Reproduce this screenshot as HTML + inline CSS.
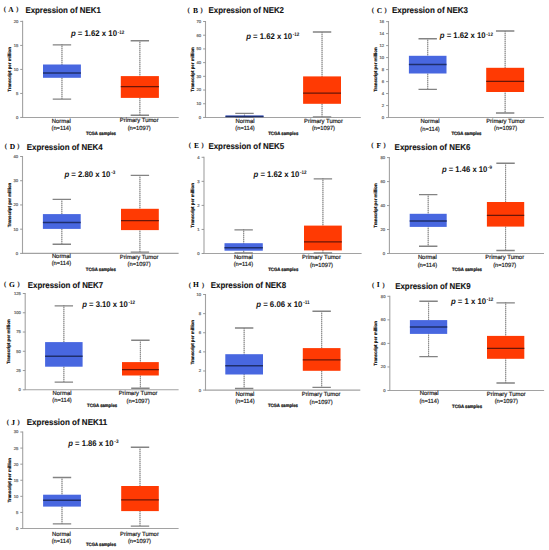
<!DOCTYPE html>
<html><head><meta charset="utf-8"><style>
html,body{margin:0;padding:0;background:#fff;}
svg{display:block;}
</style></head><body>
<svg width="549" height="550" viewBox="0 0 549 550" text-rendering="geometricPrecision">
<rect width="549" height="550" fill="#fff"/>
<text x="3.85" y="11.2" font-family='"Liberation Serif", serif' font-weight="bold" font-size="6.4" fill="#222" stroke="#222" stroke-width="0.12">(</text>
<text x="10.9" y="11.8" font-family='"Liberation Serif", serif' font-weight="bold" font-size="7.5" fill="#000" text-anchor="middle">A</text>
<text x="16.2" y="11.2" font-family='"Liberation Serif", serif' font-weight="bold" font-size="6.4" fill="#222" stroke="#222" stroke-width="0.12">)</text>
<text x="25.4" y="12.8" font-family='"Liberation Sans", sans-serif' font-weight="bold" font-size="8.5" fill="#111" stroke="#111" stroke-width="0.12" textLength="75.4" lengthAdjust="spacingAndGlyphs">Expression of NEK1</text>
<path d="M22.6 20.8V117.45H178.7" stroke="#a2a2a2" stroke-width="1.1" fill="none"/>
<path d="M20.2 117.45H22.6" stroke="#8e8e8e" stroke-width="0.9"/>
<text x="18.3" y="118.9" font-family='"Liberation Sans", sans-serif' font-size="4.2" fill="#6e6e6e" stroke="#6e6e6e" stroke-width="0.22" text-anchor="end">0</text>
<path d="M20.2 93.44H22.6" stroke="#8e8e8e" stroke-width="0.9"/>
<text x="18.3" y="94.89" font-family='"Liberation Sans", sans-serif' font-size="4.2" fill="#6e6e6e" stroke="#6e6e6e" stroke-width="0.22" text-anchor="end">5</text>
<path d="M20.2 69.42H22.6" stroke="#8e8e8e" stroke-width="0.9"/>
<text x="18.3" y="70.88" font-family='"Liberation Sans", sans-serif' font-size="4.2" fill="#6e6e6e" stroke="#6e6e6e" stroke-width="0.22" text-anchor="end">10</text>
<path d="M20.2 45.41H22.6" stroke="#8e8e8e" stroke-width="0.9"/>
<text x="18.3" y="46.86" font-family='"Liberation Sans", sans-serif' font-size="4.2" fill="#6e6e6e" stroke="#6e6e6e" stroke-width="0.22" text-anchor="end">15</text>
<path d="M20.2 21.4H22.6" stroke="#8e8e8e" stroke-width="0.9"/>
<text x="18.3" y="22.85" font-family='"Liberation Sans", sans-serif' font-size="4.2" fill="#6e6e6e" stroke="#6e6e6e" stroke-width="0.22" text-anchor="end">20</text>
<text transform="translate(10.7 69.42) rotate(-90)" font-family='"Liberation Sans", sans-serif' font-weight="bold" font-size="4.6" fill="#111" stroke="#111" stroke-width="0.16" text-anchor="middle" textLength="44.5" lengthAdjust="spacingAndGlyphs">Transcript per million</text>
<path d="M61.95 44.9V99.1" stroke="#c4c4c4" stroke-width="1.1"/>
<path d="M61.95 44V99.1" stroke="#8e8e8e" stroke-width="1.1" stroke-dasharray="1 1"/>
<path d="M52.75 44.9H71.15M52.75 99.1H71.15" stroke="#838383" stroke-width="1.4"/>
<rect x="43" y="64.5" width="37.9" height="13.3" fill="#4867e0"/>
<path d="M43 73H80.9" stroke="#1f2f6c" stroke-width="1.5"/>
<path d="M139.85 40.8V115.3" stroke="#c4c4c4" stroke-width="1.1"/>
<path d="M139.85 40V115.3" stroke="#8e8e8e" stroke-width="1.1" stroke-dasharray="1 1"/>
<path d="M130.65 40.8H149.05M130.65 115.3H149.05" stroke="#838383" stroke-width="1.4"/>
<rect x="120.8" y="76.1" width="38.1" height="21.8" fill="#ff3a03"/>
<path d="M120.8 86.7H158.9" stroke="#6a1608" stroke-width="1.25"/>
<text x="61.25" y="122.65" font-family='"Liberation Sans", sans-serif' font-size="6.0" fill="#151515" stroke="#151515" stroke-width="0.18" text-anchor="middle" textLength="18.9" lengthAdjust="spacingAndGlyphs">Normal</text>
<text x="61.25" y="129.8" font-family='"Liberation Sans", sans-serif' font-size="6.0" fill="#151515" stroke="#151515" stroke-width="0.18" text-anchor="middle" textLength="19.4" lengthAdjust="spacingAndGlyphs">(n=114)</text>
<text x="139.2" y="122.35" font-family='"Liberation Sans", sans-serif' font-size="6.0" fill="#151515" stroke="#151515" stroke-width="0.18" text-anchor="middle" textLength="38.9" lengthAdjust="spacingAndGlyphs">Primary Tumor</text>
<text x="139.2" y="129.85" font-family='"Liberation Sans", sans-serif' font-size="6.0" fill="#151515" stroke="#151515" stroke-width="0.18" text-anchor="middle" textLength="23.1" lengthAdjust="spacingAndGlyphs">(n=1097)</text>
<text x="100.9" y="134.75" font-family='"Liberation Sans", sans-serif' font-weight="bold" font-size="4.8" fill="#111" stroke="#111" stroke-width="0.22" text-anchor="middle" textLength="30.0" lengthAdjust="spacingAndGlyphs">TCGA samples</text>
<text x="70.9" y="36.1" font-family='"Liberation Sans", sans-serif' font-weight="bold" font-size="8.25" fill="#111" textLength="46.15" lengthAdjust="spacingAndGlyphs"><tspan font-style="italic">p</tspan> = 1.62 x 10</text>
<text x="117.75" y="33.55" font-family='"Liberation Sans", sans-serif' font-weight="bold" font-size="5.1" fill="#222" textLength="6.6" lengthAdjust="spacingAndGlyphs">-12</text>
<text x="187.45" y="12" font-family='"Liberation Serif", serif' font-weight="bold" font-size="6.4" fill="#222" stroke="#222" stroke-width="0.12">(</text>
<text x="195.5" y="12.6" font-family='"Liberation Serif", serif' font-weight="bold" font-size="7.5" fill="#000" text-anchor="middle">B</text>
<text x="200.6" y="12" font-family='"Liberation Serif", serif' font-weight="bold" font-size="6.4" fill="#222" stroke="#222" stroke-width="0.12">)</text>
<text x="208.6" y="12.8" font-family='"Liberation Sans", sans-serif' font-weight="bold" font-size="8.5" fill="#111" stroke="#111" stroke-width="0.12" textLength="75.4" lengthAdjust="spacingAndGlyphs">Expression of NEK2</text>
<path d="M205.5 20.9V117.45H360.8" stroke="#a2a2a2" stroke-width="1.1" fill="none"/>
<path d="M203.1 117.45H205.5" stroke="#8e8e8e" stroke-width="0.9"/>
<text x="201.2" y="118.9" font-family='"Liberation Sans", sans-serif' font-size="4.2" fill="#6e6e6e" stroke="#6e6e6e" stroke-width="0.22" text-anchor="end">0</text>
<path d="M203.1 103.74H205.5" stroke="#8e8e8e" stroke-width="0.9"/>
<text x="201.2" y="105.19" font-family='"Liberation Sans", sans-serif' font-size="4.2" fill="#6e6e6e" stroke="#6e6e6e" stroke-width="0.22" text-anchor="end">10</text>
<path d="M203.1 90.04H205.5" stroke="#8e8e8e" stroke-width="0.9"/>
<text x="201.2" y="91.49" font-family='"Liberation Sans", sans-serif' font-size="4.2" fill="#6e6e6e" stroke="#6e6e6e" stroke-width="0.22" text-anchor="end">20</text>
<path d="M203.1 76.33H205.5" stroke="#8e8e8e" stroke-width="0.9"/>
<text x="201.2" y="77.78" font-family='"Liberation Sans", sans-serif' font-size="4.2" fill="#6e6e6e" stroke="#6e6e6e" stroke-width="0.22" text-anchor="end">30</text>
<path d="M203.1 62.62H205.5" stroke="#8e8e8e" stroke-width="0.9"/>
<text x="201.2" y="64.07" font-family='"Liberation Sans", sans-serif' font-size="4.2" fill="#6e6e6e" stroke="#6e6e6e" stroke-width="0.22" text-anchor="end">40</text>
<path d="M203.1 48.91H205.5" stroke="#8e8e8e" stroke-width="0.9"/>
<text x="201.2" y="50.36" font-family='"Liberation Sans", sans-serif' font-size="4.2" fill="#6e6e6e" stroke="#6e6e6e" stroke-width="0.22" text-anchor="end">50</text>
<path d="M203.1 35.21H205.5" stroke="#8e8e8e" stroke-width="0.9"/>
<text x="201.2" y="36.66" font-family='"Liberation Sans", sans-serif' font-size="4.2" fill="#6e6e6e" stroke="#6e6e6e" stroke-width="0.22" text-anchor="end">60</text>
<path d="M203.1 21.5H205.5" stroke="#8e8e8e" stroke-width="0.9"/>
<text x="201.2" y="22.95" font-family='"Liberation Sans", sans-serif' font-size="4.2" fill="#6e6e6e" stroke="#6e6e6e" stroke-width="0.22" text-anchor="end">70</text>
<text transform="translate(193.7 69.47) rotate(-90)" font-family='"Liberation Sans", sans-serif' font-weight="bold" font-size="4.6" fill="#111" stroke="#111" stroke-width="0.16" text-anchor="middle" textLength="44.5" lengthAdjust="spacingAndGlyphs">Transcript per million</text>
<path d="M244.5 113.4V117.2" stroke="#c4c4c4" stroke-width="1.1"/>
<path d="M244.5 113V117.2" stroke="#8e8e8e" stroke-width="1.1" stroke-dasharray="1 1"/>
<path d="M235.3 113.4H253.7M235.3 117.2H253.7" stroke="#838383" stroke-width="1.4"/>
<rect x="225.5" y="115.5" width="38" height="1.5" fill="#4867e0"/>
<path d="M225.5 116.5H263.5" stroke="#1f2f6c" stroke-width="1.5"/>
<path d="M322.05 32V116.9" stroke="#c4c4c4" stroke-width="1.1"/>
<path d="M322.05 32V116.9" stroke="#8e8e8e" stroke-width="1.1" stroke-dasharray="1 1"/>
<path d="M312.85 32H331.25M312.85 116.9H331.25" stroke="#838383" stroke-width="1.4"/>
<rect x="303.1" y="76.4" width="37.9" height="27.4" fill="#ff3a03"/>
<path d="M303.1 93H341" stroke="#6a1608" stroke-width="1.25"/>
<text x="245.05" y="122.7" font-family='"Liberation Sans", sans-serif' font-size="6.0" fill="#151515" stroke="#151515" stroke-width="0.18" text-anchor="middle" textLength="18.9" lengthAdjust="spacingAndGlyphs">Normal</text>
<text x="245.05" y="130.45" font-family='"Liberation Sans", sans-serif' font-size="6.0" fill="#151515" stroke="#151515" stroke-width="0.18" text-anchor="middle" textLength="19.4" lengthAdjust="spacingAndGlyphs">(n=114)</text>
<text x="323.45" y="122.85" font-family='"Liberation Sans", sans-serif' font-size="6.0" fill="#151515" stroke="#151515" stroke-width="0.18" text-anchor="middle" textLength="38.9" lengthAdjust="spacingAndGlyphs">Primary Tumor</text>
<text x="323.45" y="130.3" font-family='"Liberation Sans", sans-serif' font-size="6.0" fill="#151515" stroke="#151515" stroke-width="0.18" text-anchor="middle" textLength="23.1" lengthAdjust="spacingAndGlyphs">(n=1097)</text>
<text x="283.27" y="134.75" font-family='"Liberation Sans", sans-serif' font-weight="bold" font-size="4.8" fill="#111" stroke="#111" stroke-width="0.22" text-anchor="middle" textLength="30.0" lengthAdjust="spacingAndGlyphs">TCGA samples</text>
<text x="246.2" y="38.5" font-family='"Liberation Sans", sans-serif' font-weight="bold" font-size="8.25" fill="#111" textLength="45.85" lengthAdjust="spacingAndGlyphs"><tspan font-style="italic">p</tspan> = 1.62 x 10</text>
<text x="292.75" y="35.95" font-family='"Liberation Sans", sans-serif' font-weight="bold" font-size="5.1" fill="#222" textLength="6.6" lengthAdjust="spacingAndGlyphs">-12</text>
<text x="371.85" y="12.2" font-family='"Liberation Serif", serif' font-weight="bold" font-size="6.4" fill="#222" stroke="#222" stroke-width="0.12">(</text>
<text x="379.4" y="12.8" font-family='"Liberation Serif", serif' font-weight="bold" font-size="7.5" fill="#000" text-anchor="middle">C</text>
<text x="384.6" y="12.2" font-family='"Liberation Serif", serif' font-weight="bold" font-size="6.4" fill="#222" stroke="#222" stroke-width="0.12">)</text>
<text x="391.9" y="13.2" font-family='"Liberation Sans", sans-serif' font-weight="bold" font-size="8.5" fill="#111" stroke="#111" stroke-width="0.12" textLength="76.1" lengthAdjust="spacingAndGlyphs">Expression of NEK3</text>
<path d="M388.5 21V117.55H543.9" stroke="#a2a2a2" stroke-width="1.1" fill="none"/>
<path d="M386.1 117.55H388.5" stroke="#8e8e8e" stroke-width="0.9"/>
<text x="384.2" y="119" font-family='"Liberation Sans", sans-serif' font-size="4.2" fill="#6e6e6e" stroke="#6e6e6e" stroke-width="0.22" text-anchor="end">0</text>
<path d="M386.1 105.56H388.5" stroke="#8e8e8e" stroke-width="0.9"/>
<text x="384.2" y="107.01" font-family='"Liberation Sans", sans-serif' font-size="4.2" fill="#6e6e6e" stroke="#6e6e6e" stroke-width="0.22" text-anchor="end">2</text>
<path d="M386.1 93.56H388.5" stroke="#8e8e8e" stroke-width="0.9"/>
<text x="384.2" y="95.01" font-family='"Liberation Sans", sans-serif' font-size="4.2" fill="#6e6e6e" stroke="#6e6e6e" stroke-width="0.22" text-anchor="end">4</text>
<path d="M386.1 81.57H388.5" stroke="#8e8e8e" stroke-width="0.9"/>
<text x="384.2" y="83.02" font-family='"Liberation Sans", sans-serif' font-size="4.2" fill="#6e6e6e" stroke="#6e6e6e" stroke-width="0.22" text-anchor="end">6</text>
<path d="M386.1 69.58H388.5" stroke="#8e8e8e" stroke-width="0.9"/>
<text x="384.2" y="71.03" font-family='"Liberation Sans", sans-serif' font-size="4.2" fill="#6e6e6e" stroke="#6e6e6e" stroke-width="0.22" text-anchor="end">8</text>
<path d="M386.1 57.58H388.5" stroke="#8e8e8e" stroke-width="0.9"/>
<text x="384.2" y="59.03" font-family='"Liberation Sans", sans-serif' font-size="4.2" fill="#6e6e6e" stroke="#6e6e6e" stroke-width="0.22" text-anchor="end">10</text>
<path d="M386.1 45.59H388.5" stroke="#8e8e8e" stroke-width="0.9"/>
<text x="384.2" y="47.04" font-family='"Liberation Sans", sans-serif' font-size="4.2" fill="#6e6e6e" stroke="#6e6e6e" stroke-width="0.22" text-anchor="end">12</text>
<path d="M386.1 33.59H388.5" stroke="#8e8e8e" stroke-width="0.9"/>
<text x="384.2" y="35.04" font-family='"Liberation Sans", sans-serif' font-size="4.2" fill="#6e6e6e" stroke="#6e6e6e" stroke-width="0.22" text-anchor="end">14</text>
<path d="M386.1 21.6H388.5" stroke="#8e8e8e" stroke-width="0.9"/>
<text x="384.2" y="23.05" font-family='"Liberation Sans", sans-serif' font-size="4.2" fill="#6e6e6e" stroke="#6e6e6e" stroke-width="0.22" text-anchor="end">16</text>
<text transform="translate(376.7 69.58) rotate(-90)" font-family='"Liberation Sans", sans-serif' font-weight="bold" font-size="4.6" fill="#111" stroke="#111" stroke-width="0.16" text-anchor="middle" textLength="44.5" lengthAdjust="spacingAndGlyphs">Transcript per million</text>
<path d="M427.7 38.7V89.4" stroke="#c4c4c4" stroke-width="1.1"/>
<path d="M427.7 38V89.4" stroke="#8e8e8e" stroke-width="1.1" stroke-dasharray="1 1"/>
<path d="M418.5 38.7H436.9M418.5 89.4H436.9" stroke="#838383" stroke-width="1.4"/>
<rect x="408.9" y="55.8" width="37.6" height="17.7" fill="#4867e0"/>
<path d="M408.9 64.4H446.5" stroke="#1f2f6c" stroke-width="1.5"/>
<path d="M505.15 31V113" stroke="#c4c4c4" stroke-width="1.1"/>
<path d="M505.15 31V113" stroke="#8e8e8e" stroke-width="1.1" stroke-dasharray="1 1"/>
<path d="M495.95 31H514.35M495.95 113H514.35" stroke="#838383" stroke-width="1.4"/>
<rect x="486.2" y="67.8" width="37.9" height="24.2" fill="#ff3a03"/>
<path d="M486.2 81.4H524.1" stroke="#6a1608" stroke-width="1.25"/>
<text x="430.05" y="123" font-family='"Liberation Sans", sans-serif' font-size="6.0" fill="#151515" stroke="#151515" stroke-width="0.18" text-anchor="middle" textLength="18.9" lengthAdjust="spacingAndGlyphs">Normal</text>
<text x="430.05" y="130.85" font-family='"Liberation Sans", sans-serif' font-size="6.0" fill="#151515" stroke="#151515" stroke-width="0.18" text-anchor="middle" textLength="19.4" lengthAdjust="spacingAndGlyphs">(n=114)</text>
<text x="505.6" y="122.9" font-family='"Liberation Sans", sans-serif' font-size="6.0" fill="#151515" stroke="#151515" stroke-width="0.18" text-anchor="middle" textLength="38.9" lengthAdjust="spacingAndGlyphs">Primary Tumor</text>
<text x="505.6" y="130.3" font-family='"Liberation Sans", sans-serif' font-size="6.0" fill="#151515" stroke="#151515" stroke-width="0.18" text-anchor="middle" textLength="23.1" lengthAdjust="spacingAndGlyphs">(n=1097)</text>
<text x="466.42" y="134.85" font-family='"Liberation Sans", sans-serif' font-weight="bold" font-size="4.8" fill="#111" stroke="#111" stroke-width="0.22" text-anchor="middle" textLength="30.0" lengthAdjust="spacingAndGlyphs">TCGA samples</text>
<text x="439.8" y="38.1" font-family='"Liberation Sans", sans-serif' font-weight="bold" font-size="8.25" fill="#111" textLength="45.85" lengthAdjust="spacingAndGlyphs"><tspan font-style="italic">p</tspan> = 1.62 x 10</text>
<text x="486.35" y="35.55" font-family='"Liberation Sans", sans-serif' font-weight="bold" font-size="5.1" fill="#222" textLength="6.6" lengthAdjust="spacingAndGlyphs">-12</text>
<text x="4.75" y="148.1" font-family='"Liberation Serif", serif' font-weight="bold" font-size="6.4" fill="#222" stroke="#222" stroke-width="0.12">(</text>
<text x="12.45" y="148.65" font-family='"Liberation Serif", serif' font-weight="bold" font-size="7.5" fill="#000" text-anchor="middle">D</text>
<text x="17.3" y="148.1" font-family='"Liberation Serif", serif' font-weight="bold" font-size="6.4" fill="#222" stroke="#222" stroke-width="0.12">)</text>
<text x="26.75" y="149.8" font-family='"Liberation Sans", sans-serif' font-weight="bold" font-size="8.5" fill="#111" stroke="#111" stroke-width="0.12" textLength="75.85" lengthAdjust="spacingAndGlyphs">Expression of NEK4</text>
<path d="M22.5 155.9V253.4H178.6" stroke="#a2a2a2" stroke-width="1.1" fill="none"/>
<path d="M20.1 253.4H22.5" stroke="#8e8e8e" stroke-width="0.9"/>
<text x="18.2" y="254.85" font-family='"Liberation Sans", sans-serif' font-size="4.2" fill="#6e6e6e" stroke="#6e6e6e" stroke-width="0.22" text-anchor="end">0</text>
<path d="M20.1 229.18H22.5" stroke="#8e8e8e" stroke-width="0.9"/>
<text x="18.2" y="230.62" font-family='"Liberation Sans", sans-serif' font-size="4.2" fill="#6e6e6e" stroke="#6e6e6e" stroke-width="0.22" text-anchor="end">10</text>
<path d="M20.1 204.95H22.5" stroke="#8e8e8e" stroke-width="0.9"/>
<text x="18.2" y="206.4" font-family='"Liberation Sans", sans-serif' font-size="4.2" fill="#6e6e6e" stroke="#6e6e6e" stroke-width="0.22" text-anchor="end">20</text>
<path d="M20.1 180.72H22.5" stroke="#8e8e8e" stroke-width="0.9"/>
<text x="18.2" y="182.17" font-family='"Liberation Sans", sans-serif' font-size="4.2" fill="#6e6e6e" stroke="#6e6e6e" stroke-width="0.22" text-anchor="end">30</text>
<path d="M20.1 156.5H22.5" stroke="#8e8e8e" stroke-width="0.9"/>
<text x="18.2" y="157.95" font-family='"Liberation Sans", sans-serif' font-size="4.2" fill="#6e6e6e" stroke="#6e6e6e" stroke-width="0.22" text-anchor="end">40</text>
<text transform="translate(10.7 204.95) rotate(-90)" font-family='"Liberation Sans", sans-serif' font-weight="bold" font-size="4.6" fill="#111" stroke="#111" stroke-width="0.16" text-anchor="middle" textLength="44.5" lengthAdjust="spacingAndGlyphs">Transcript per million</text>
<path d="M61.8 199.4V244.3" stroke="#c4c4c4" stroke-width="1.1"/>
<path d="M61.8 199V244.3" stroke="#8e8e8e" stroke-width="1.1" stroke-dasharray="1 1"/>
<path d="M52.6 199.4H71M52.6 244.3H71" stroke="#838383" stroke-width="1.4"/>
<rect x="42.9" y="214.1" width="37.8" height="14.8" fill="#4867e0"/>
<path d="M42.9 222.4H80.7" stroke="#1f2f6c" stroke-width="1.5"/>
<path d="M139.9 175.4V252.1" stroke="#c4c4c4" stroke-width="1.1"/>
<path d="M139.9 175V252.1" stroke="#8e8e8e" stroke-width="1.1" stroke-dasharray="1 1"/>
<path d="M130.7 175.4H149.1M130.7 252.1H149.1" stroke="#838383" stroke-width="1.4"/>
<rect x="121" y="208.8" width="37.8" height="21.3" fill="#ff3a03"/>
<path d="M121 220.6H158.8" stroke="#6a1608" stroke-width="1.25"/>
<text x="61.35" y="257.8" font-family='"Liberation Sans", sans-serif' font-size="6.0" fill="#151515" stroke="#151515" stroke-width="0.18" text-anchor="middle" textLength="18.9" lengthAdjust="spacingAndGlyphs">Normal</text>
<text x="61.35" y="265.4" font-family='"Liberation Sans", sans-serif' font-size="6.0" fill="#151515" stroke="#151515" stroke-width="0.18" text-anchor="middle" textLength="19.4" lengthAdjust="spacingAndGlyphs">(n=114)</text>
<text x="139.15" y="258.5" font-family='"Liberation Sans", sans-serif' font-size="6.0" fill="#151515" stroke="#151515" stroke-width="0.18" text-anchor="middle" textLength="38.9" lengthAdjust="spacingAndGlyphs">Primary Tumor</text>
<text x="139.15" y="265.8" font-family='"Liberation Sans", sans-serif' font-size="6.0" fill="#151515" stroke="#151515" stroke-width="0.18" text-anchor="middle" textLength="23.1" lengthAdjust="spacingAndGlyphs">(n=1097)</text>
<text x="100.85" y="270.7" font-family='"Liberation Sans", sans-serif' font-weight="bold" font-size="4.8" fill="#111" stroke="#111" stroke-width="0.22" text-anchor="middle" textLength="30.0" lengthAdjust="spacingAndGlyphs">TCGA samples</text>
<text x="64.4" y="176.5" font-family='"Liberation Sans", sans-serif' font-weight="bold" font-size="8.25" fill="#111" textLength="46.05" lengthAdjust="spacingAndGlyphs"><tspan font-style="italic">p</tspan> = 2.80 x 10</text>
<text x="111.15" y="173.95" font-family='"Liberation Sans", sans-serif' font-weight="bold" font-size="5.1" fill="#222" textLength="4.1" lengthAdjust="spacingAndGlyphs">-3</text>
<text x="188.85" y="147.2" font-family='"Liberation Serif", serif' font-weight="bold" font-size="6.4" fill="#222" stroke="#222" stroke-width="0.12">(</text>
<text x="196.4" y="147.8" font-family='"Liberation Serif", serif' font-weight="bold" font-size="7.5" fill="#000" text-anchor="middle">E</text>
<text x="201.4" y="147.2" font-family='"Liberation Serif", serif' font-weight="bold" font-size="6.4" fill="#222" stroke="#222" stroke-width="0.12">)</text>
<text x="208.4" y="148.8" font-family='"Liberation Sans", sans-serif' font-weight="bold" font-size="8.5" fill="#111" stroke="#111" stroke-width="0.12" textLength="75.8" lengthAdjust="spacingAndGlyphs">Expression of NEK5</text>
<path d="M204 156.7V253.5H361.6" stroke="#a2a2a2" stroke-width="1.1" fill="none"/>
<path d="M201.6 253.5H204" stroke="#8e8e8e" stroke-width="0.9"/>
<text x="199.7" y="254.95" font-family='"Liberation Sans", sans-serif' font-size="4.2" fill="#6e6e6e" stroke="#6e6e6e" stroke-width="0.22" text-anchor="end">0</text>
<path d="M201.6 229.45H204" stroke="#8e8e8e" stroke-width="0.9"/>
<text x="199.7" y="230.9" font-family='"Liberation Sans", sans-serif' font-size="4.2" fill="#6e6e6e" stroke="#6e6e6e" stroke-width="0.22" text-anchor="end">1</text>
<path d="M201.6 205.4H204" stroke="#8e8e8e" stroke-width="0.9"/>
<text x="199.7" y="206.85" font-family='"Liberation Sans", sans-serif' font-size="4.2" fill="#6e6e6e" stroke="#6e6e6e" stroke-width="0.22" text-anchor="end">2</text>
<path d="M201.6 181.35H204" stroke="#8e8e8e" stroke-width="0.9"/>
<text x="199.7" y="182.8" font-family='"Liberation Sans", sans-serif' font-size="4.2" fill="#6e6e6e" stroke="#6e6e6e" stroke-width="0.22" text-anchor="end">3</text>
<path d="M201.6 157.3H204" stroke="#8e8e8e" stroke-width="0.9"/>
<text x="199.7" y="158.75" font-family='"Liberation Sans", sans-serif' font-size="4.2" fill="#6e6e6e" stroke="#6e6e6e" stroke-width="0.22" text-anchor="end">4</text>
<text transform="translate(193.9 205.4) rotate(-90)" font-family='"Liberation Sans", sans-serif' font-weight="bold" font-size="4.6" fill="#111" stroke="#111" stroke-width="0.16" text-anchor="middle" textLength="44.5" lengthAdjust="spacingAndGlyphs">Transcript per million</text>
<path d="M243.65 229.9V253" stroke="#c4c4c4" stroke-width="1.1"/>
<path d="M243.65 229V253" stroke="#8e8e8e" stroke-width="1.1" stroke-dasharray="1 1"/>
<path d="M234.45 229.9H252.85M234.45 253H252.85" stroke="#838383" stroke-width="1.4"/>
<rect x="224.5" y="243.2" width="38.3" height="7.5" fill="#4867e0"/>
<path d="M224.5 247.7H262.8" stroke="#1f2f6c" stroke-width="1.5"/>
<path d="M322.9 178.9V253" stroke="#c4c4c4" stroke-width="1.1"/>
<path d="M322.9 178V253" stroke="#8e8e8e" stroke-width="1.1" stroke-dasharray="1 1"/>
<path d="M313.7 178.9H332.1M313.7 253H332.1" stroke="#838383" stroke-width="1.4"/>
<rect x="304" y="225.6" width="37.8" height="24.8" fill="#ff3a03"/>
<path d="M304 241.9H341.8" stroke="#6a1608" stroke-width="1.25"/>
<text x="243.35" y="258.7" font-family='"Liberation Sans", sans-serif' font-size="6.0" fill="#151515" stroke="#151515" stroke-width="0.18" text-anchor="middle" textLength="18.9" lengthAdjust="spacingAndGlyphs">Normal</text>
<text x="243.35" y="266.3" font-family='"Liberation Sans", sans-serif' font-size="6.0" fill="#151515" stroke="#151515" stroke-width="0.18" text-anchor="middle" textLength="19.4" lengthAdjust="spacingAndGlyphs">(n=114)</text>
<text x="321.45" y="258.9" font-family='"Liberation Sans", sans-serif' font-size="6.0" fill="#151515" stroke="#151515" stroke-width="0.18" text-anchor="middle" textLength="38.9" lengthAdjust="spacingAndGlyphs">Primary Tumor</text>
<text x="321.45" y="266.7" font-family='"Liberation Sans", sans-serif' font-size="6.0" fill="#151515" stroke="#151515" stroke-width="0.18" text-anchor="middle" textLength="23.1" lengthAdjust="spacingAndGlyphs">(n=1097)</text>
<text x="283.27" y="270.8" font-family='"Liberation Sans", sans-serif' font-weight="bold" font-size="4.8" fill="#111" stroke="#111" stroke-width="0.22" text-anchor="middle" textLength="30.0" lengthAdjust="spacingAndGlyphs">TCGA samples</text>
<text x="253.5" y="176.5" font-family='"Liberation Sans", sans-serif' font-weight="bold" font-size="8.25" fill="#111" textLength="45.85" lengthAdjust="spacingAndGlyphs"><tspan font-style="italic">p</tspan> = 1.62 x 10</text>
<text x="300.05" y="173.95" font-family='"Liberation Sans", sans-serif' font-weight="bold" font-size="5.1" fill="#222" textLength="6.6" lengthAdjust="spacingAndGlyphs">-12</text>
<text x="371.25" y="147.2" font-family='"Liberation Serif", serif' font-weight="bold" font-size="6.4" fill="#222" stroke="#222" stroke-width="0.12">(</text>
<text x="378.7" y="147.8" font-family='"Liberation Serif", serif' font-weight="bold" font-size="7.5" fill="#000" text-anchor="middle">F</text>
<text x="383.4" y="147.2" font-family='"Liberation Serif", serif' font-weight="bold" font-size="6.4" fill="#222" stroke="#222" stroke-width="0.12">)</text>
<text x="394.6" y="150" font-family='"Liberation Sans", sans-serif' font-weight="bold" font-size="8.5" fill="#111" stroke="#111" stroke-width="0.12" textLength="75.7" lengthAdjust="spacingAndGlyphs">Expression of NEK6</text>
<path d="M389.4 157V253.5H544" stroke="#a2a2a2" stroke-width="1.1" fill="none"/>
<path d="M387 253.5H389.4" stroke="#8e8e8e" stroke-width="0.9"/>
<text x="385.1" y="254.95" font-family='"Liberation Sans", sans-serif' font-size="4.2" fill="#6e6e6e" stroke="#6e6e6e" stroke-width="0.22" text-anchor="end">0</text>
<path d="M387 229.53H389.4" stroke="#8e8e8e" stroke-width="0.9"/>
<text x="385.1" y="230.97" font-family='"Liberation Sans", sans-serif' font-size="4.2" fill="#6e6e6e" stroke="#6e6e6e" stroke-width="0.22" text-anchor="end">20</text>
<path d="M387 205.55H389.4" stroke="#8e8e8e" stroke-width="0.9"/>
<text x="385.1" y="207" font-family='"Liberation Sans", sans-serif' font-size="4.2" fill="#6e6e6e" stroke="#6e6e6e" stroke-width="0.22" text-anchor="end">40</text>
<path d="M387 181.57H389.4" stroke="#8e8e8e" stroke-width="0.9"/>
<text x="385.1" y="183.02" font-family='"Liberation Sans", sans-serif' font-size="4.2" fill="#6e6e6e" stroke="#6e6e6e" stroke-width="0.22" text-anchor="end">60</text>
<path d="M387 157.6H389.4" stroke="#8e8e8e" stroke-width="0.9"/>
<text x="385.1" y="159.05" font-family='"Liberation Sans", sans-serif' font-size="4.2" fill="#6e6e6e" stroke="#6e6e6e" stroke-width="0.22" text-anchor="end">80</text>
<text transform="translate(376.7 205.55) rotate(-90)" font-family='"Liberation Sans", sans-serif' font-weight="bold" font-size="4.6" fill="#111" stroke="#111" stroke-width="0.16" text-anchor="middle" textLength="44.5" lengthAdjust="spacingAndGlyphs">Transcript per million</text>
<path d="M428.2 194.6V246.2" stroke="#c4c4c4" stroke-width="1.1"/>
<path d="M428.2 194V246.2" stroke="#8e8e8e" stroke-width="1.1" stroke-dasharray="1 1"/>
<path d="M419 194.6H437.4M419 246.2H437.4" stroke="#838383" stroke-width="1.4"/>
<rect x="409.7" y="213.8" width="37" height="13.1" fill="#4867e0"/>
<path d="M409.7 221H446.7" stroke="#1f2f6c" stroke-width="1.5"/>
<path d="M505.55 163.3V250.5" stroke="#c4c4c4" stroke-width="1.1"/>
<path d="M505.55 163V250.5" stroke="#8e8e8e" stroke-width="1.1" stroke-dasharray="1 1"/>
<path d="M496.35 163.3H514.75M496.35 250.5H514.75" stroke="#838383" stroke-width="1.4"/>
<rect x="486.9" y="202" width="37.3" height="24.6" fill="#ff3a03"/>
<path d="M486.9 215.4H524.2" stroke="#6a1608" stroke-width="1.25"/>
<text x="427.35" y="258.7" font-family='"Liberation Sans", sans-serif' font-size="6.0" fill="#151515" stroke="#151515" stroke-width="0.18" text-anchor="middle" textLength="18.9" lengthAdjust="spacingAndGlyphs">Normal</text>
<text x="427.35" y="266.5" font-family='"Liberation Sans", sans-serif' font-size="6.0" fill="#151515" stroke="#151515" stroke-width="0.18" text-anchor="middle" textLength="19.4" lengthAdjust="spacingAndGlyphs">(n=114)</text>
<text x="504.7" y="258.9" font-family='"Liberation Sans", sans-serif' font-size="6.0" fill="#151515" stroke="#151515" stroke-width="0.18" text-anchor="middle" textLength="38.9" lengthAdjust="spacingAndGlyphs">Primary Tumor</text>
<text x="504.7" y="266.6" font-family='"Liberation Sans", sans-serif' font-size="6.0" fill="#151515" stroke="#151515" stroke-width="0.18" text-anchor="middle" textLength="23.1" lengthAdjust="spacingAndGlyphs">(n=1097)</text>
<text x="466.88" y="270.8" font-family='"Liberation Sans", sans-serif' font-weight="bold" font-size="4.8" fill="#111" stroke="#111" stroke-width="0.22" text-anchor="middle" textLength="30.0" lengthAdjust="spacingAndGlyphs">TCGA samples</text>
<text x="441.9" y="171.5" font-family='"Liberation Sans", sans-serif' font-weight="bold" font-size="8.25" fill="#111" textLength="45.45" lengthAdjust="spacingAndGlyphs"><tspan font-style="italic">p</tspan> = 1.46 x 10</text>
<text x="488.05" y="168.95" font-family='"Liberation Sans", sans-serif' font-weight="bold" font-size="5.1" fill="#222" textLength="4.1" lengthAdjust="spacingAndGlyphs">-9</text>
<text x="4.05" y="286.2" font-family='"Liberation Serif", serif' font-weight="bold" font-size="6.4" fill="#222" stroke="#222" stroke-width="0.12">(</text>
<text x="11.9" y="286.8" font-family='"Liberation Serif", serif' font-weight="bold" font-size="7.5" fill="#000" text-anchor="middle">G</text>
<text x="17.6" y="286.2" font-family='"Liberation Serif", serif' font-weight="bold" font-size="6.4" fill="#222" stroke="#222" stroke-width="0.12">)</text>
<text x="27.8" y="287.8" font-family='"Liberation Sans", sans-serif' font-weight="bold" font-size="8.5" fill="#111" stroke="#111" stroke-width="0.12" textLength="75.4" lengthAdjust="spacingAndGlyphs">Expression of NEK7</text>
<path d="M25.2 292.9V389.8H178.6" stroke="#a2a2a2" stroke-width="1.1" fill="none"/>
<path d="M22.8 389.8H25.2" stroke="#8e8e8e" stroke-width="0.9"/>
<text x="20.9" y="391.25" font-family='"Liberation Sans", sans-serif' font-size="4.2" fill="#6e6e6e" stroke="#6e6e6e" stroke-width="0.22" text-anchor="end">0</text>
<path d="M22.8 370.54H25.2" stroke="#8e8e8e" stroke-width="0.9"/>
<text x="20.9" y="371.99" font-family='"Liberation Sans", sans-serif' font-size="4.2" fill="#6e6e6e" stroke="#6e6e6e" stroke-width="0.22" text-anchor="end">25</text>
<path d="M22.8 351.28H25.2" stroke="#8e8e8e" stroke-width="0.9"/>
<text x="20.9" y="352.73" font-family='"Liberation Sans", sans-serif' font-size="4.2" fill="#6e6e6e" stroke="#6e6e6e" stroke-width="0.22" text-anchor="end">50</text>
<path d="M22.8 332.02H25.2" stroke="#8e8e8e" stroke-width="0.9"/>
<text x="20.9" y="333.47" font-family='"Liberation Sans", sans-serif' font-size="4.2" fill="#6e6e6e" stroke="#6e6e6e" stroke-width="0.22" text-anchor="end">75</text>
<path d="M22.8 312.76H25.2" stroke="#8e8e8e" stroke-width="0.9"/>
<text x="20.9" y="314.21" font-family='"Liberation Sans", sans-serif' font-size="4.2" fill="#6e6e6e" stroke="#6e6e6e" stroke-width="0.22" text-anchor="end">100</text>
<path d="M22.8 293.5H25.2" stroke="#8e8e8e" stroke-width="0.9"/>
<text x="20.9" y="294.95" font-family='"Liberation Sans", sans-serif' font-size="4.2" fill="#6e6e6e" stroke="#6e6e6e" stroke-width="0.22" text-anchor="end">125</text>
<text transform="translate(10.1 341.65) rotate(-90)" font-family='"Liberation Sans", sans-serif' font-weight="bold" font-size="4.6" fill="#111" stroke="#111" stroke-width="0.16" text-anchor="middle" textLength="44.5" lengthAdjust="spacingAndGlyphs">Transcript per million</text>
<path d="M63.85 305.9V382.1" stroke="#c4c4c4" stroke-width="1.1"/>
<path d="M63.85 305V382.1" stroke="#8e8e8e" stroke-width="1.1" stroke-dasharray="1 1"/>
<path d="M54.65 305.9H73.05M54.65 382.1H73.05" stroke="#838383" stroke-width="1.4"/>
<rect x="45.1" y="342.1" width="37.5" height="24.6" fill="#4867e0"/>
<path d="M45.1 356.3H82.6" stroke="#1f2f6c" stroke-width="1.5"/>
<path d="M140.4 340.3V388.3" stroke="#c4c4c4" stroke-width="1.1"/>
<path d="M140.4 340V388.3" stroke="#8e8e8e" stroke-width="1.1" stroke-dasharray="1 1"/>
<path d="M131.2 340.3H149.6M131.2 388.3H149.6" stroke="#838383" stroke-width="1.4"/>
<rect x="122" y="362.1" width="36.8" height="13.4" fill="#ff3a03"/>
<path d="M122 369.6H158.8" stroke="#6a1608" stroke-width="1.25"/>
<text x="62.05" y="394.9" font-family='"Liberation Sans", sans-serif' font-size="6.0" fill="#151515" stroke="#151515" stroke-width="0.18" text-anchor="middle" textLength="18.9" lengthAdjust="spacingAndGlyphs">Normal</text>
<text x="62.05" y="402.2" font-family='"Liberation Sans", sans-serif' font-size="6.0" fill="#151515" stroke="#151515" stroke-width="0.18" text-anchor="middle" textLength="19.4" lengthAdjust="spacingAndGlyphs">(n=114)</text>
<text x="138.1" y="394.9" font-family='"Liberation Sans", sans-serif' font-size="6.0" fill="#151515" stroke="#151515" stroke-width="0.18" text-anchor="middle" textLength="38.9" lengthAdjust="spacingAndGlyphs">Primary Tumor</text>
<text x="138.1" y="402.5" font-family='"Liberation Sans", sans-serif' font-size="6.0" fill="#151515" stroke="#151515" stroke-width="0.18" text-anchor="middle" textLength="23.1" lengthAdjust="spacingAndGlyphs">(n=1097)</text>
<text x="102.12" y="407.1" font-family='"Liberation Sans", sans-serif' font-weight="bold" font-size="4.8" fill="#111" stroke="#111" stroke-width="0.22" text-anchor="middle" textLength="30.0" lengthAdjust="spacingAndGlyphs">TCGA samples</text>
<text x="82.2" y="306.9" font-family='"Liberation Sans", sans-serif' font-weight="bold" font-size="8.25" fill="#111" textLength="45.55" lengthAdjust="spacingAndGlyphs"><tspan font-style="italic">p</tspan> = 3.10 x 10</text>
<text x="128.45" y="304.35" font-family='"Liberation Sans", sans-serif' font-weight="bold" font-size="5.1" fill="#222" textLength="6.6" lengthAdjust="spacingAndGlyphs">-12</text>
<text x="188.85" y="286.6" font-family='"Liberation Serif", serif' font-weight="bold" font-size="6.4" fill="#222" stroke="#222" stroke-width="0.12">(</text>
<text x="196" y="286.8" font-family='"Liberation Serif", serif' font-weight="bold" font-size="7.5" fill="#000" text-anchor="middle">H</text>
<text x="202" y="286.6" font-family='"Liberation Serif", serif' font-weight="bold" font-size="6.4" fill="#222" stroke="#222" stroke-width="0.12">)</text>
<text x="210.8" y="287.8" font-family='"Liberation Sans", sans-serif' font-weight="bold" font-size="8.5" fill="#111" stroke="#111" stroke-width="0.12" textLength="75.4" lengthAdjust="spacingAndGlyphs">Expression of NEK8</text>
<path d="M205.5 293.9V390.1H360.3" stroke="#a2a2a2" stroke-width="1.1" fill="none"/>
<path d="M203.1 390.1H205.5" stroke="#8e8e8e" stroke-width="0.9"/>
<text x="201.2" y="391.55" font-family='"Liberation Sans", sans-serif' font-size="4.2" fill="#6e6e6e" stroke="#6e6e6e" stroke-width="0.22" text-anchor="end">0</text>
<path d="M203.1 370.98H205.5" stroke="#8e8e8e" stroke-width="0.9"/>
<text x="201.2" y="372.43" font-family='"Liberation Sans", sans-serif' font-size="4.2" fill="#6e6e6e" stroke="#6e6e6e" stroke-width="0.22" text-anchor="end">2</text>
<path d="M203.1 351.86H205.5" stroke="#8e8e8e" stroke-width="0.9"/>
<text x="201.2" y="353.31" font-family='"Liberation Sans", sans-serif' font-size="4.2" fill="#6e6e6e" stroke="#6e6e6e" stroke-width="0.22" text-anchor="end">4</text>
<path d="M203.1 332.74H205.5" stroke="#8e8e8e" stroke-width="0.9"/>
<text x="201.2" y="334.19" font-family='"Liberation Sans", sans-serif' font-size="4.2" fill="#6e6e6e" stroke="#6e6e6e" stroke-width="0.22" text-anchor="end">6</text>
<path d="M203.1 313.62H205.5" stroke="#8e8e8e" stroke-width="0.9"/>
<text x="201.2" y="315.07" font-family='"Liberation Sans", sans-serif' font-size="4.2" fill="#6e6e6e" stroke="#6e6e6e" stroke-width="0.22" text-anchor="end">8</text>
<path d="M203.1 294.5H205.5" stroke="#8e8e8e" stroke-width="0.9"/>
<text x="201.2" y="295.95" font-family='"Liberation Sans", sans-serif' font-size="4.2" fill="#6e6e6e" stroke="#6e6e6e" stroke-width="0.22" text-anchor="end">10</text>
<text transform="translate(193.7 342.3) rotate(-90)" font-family='"Liberation Sans", sans-serif' font-weight="bold" font-size="4.6" fill="#111" stroke="#111" stroke-width="0.16" text-anchor="middle" textLength="44.5" lengthAdjust="spacingAndGlyphs">Transcript per million</text>
<path d="M244.15 328V388.5" stroke="#c4c4c4" stroke-width="1.1"/>
<path d="M244.15 328V388.5" stroke="#8e8e8e" stroke-width="1.1" stroke-dasharray="1 1"/>
<path d="M234.95 328H253.35M234.95 388.5H253.35" stroke="#838383" stroke-width="1.4"/>
<rect x="225.3" y="354.2" width="37.7" height="20.3" fill="#4867e0"/>
<path d="M225.3 365.8H263" stroke="#1f2f6c" stroke-width="1.5"/>
<path d="M321.65 311.3V387.4" stroke="#c4c4c4" stroke-width="1.1"/>
<path d="M321.65 311V387.4" stroke="#8e8e8e" stroke-width="1.1" stroke-dasharray="1 1"/>
<path d="M312.45 311.3H330.85M312.45 387.4H330.85" stroke="#838383" stroke-width="1.4"/>
<rect x="302.8" y="348.1" width="37.7" height="22.7" fill="#ff3a03"/>
<path d="M302.8 359.9H340.5" stroke="#6a1608" stroke-width="1.25"/>
<text x="244.9" y="395.6" font-family='"Liberation Sans", sans-serif' font-size="6.0" fill="#151515" stroke="#151515" stroke-width="0.18" text-anchor="middle" textLength="18.9" lengthAdjust="spacingAndGlyphs">Normal</text>
<text x="244.9" y="403.4" font-family='"Liberation Sans", sans-serif' font-size="6.0" fill="#151515" stroke="#151515" stroke-width="0.18" text-anchor="middle" textLength="19.4" lengthAdjust="spacingAndGlyphs">(n=114)</text>
<text x="321.15" y="395.9" font-family='"Liberation Sans", sans-serif' font-size="6.0" fill="#151515" stroke="#151515" stroke-width="0.18" text-anchor="middle" textLength="38.9" lengthAdjust="spacingAndGlyphs">Primary Tumor</text>
<text x="321.15" y="403.5" font-family='"Liberation Sans", sans-serif' font-size="6.0" fill="#151515" stroke="#151515" stroke-width="0.18" text-anchor="middle" textLength="23.1" lengthAdjust="spacingAndGlyphs">(n=1097)</text>
<text x="282.9" y="407.4" font-family='"Liberation Sans", sans-serif' font-weight="bold" font-size="4.8" fill="#111" stroke="#111" stroke-width="0.22" text-anchor="middle" textLength="30.0" lengthAdjust="spacingAndGlyphs">TCGA samples</text>
<text x="256.2" y="306.9" font-family='"Liberation Sans", sans-serif' font-weight="bold" font-size="8.25" fill="#111" textLength="46.25" lengthAdjust="spacingAndGlyphs"><tspan font-style="italic">p</tspan> = 6.06 x 10</text>
<text x="303.15" y="304.35" font-family='"Liberation Sans", sans-serif' font-weight="bold" font-size="5.1" fill="#222" textLength="6.6" lengthAdjust="spacingAndGlyphs">-11</text>
<text x="372.05" y="286.8" font-family='"Liberation Serif", serif' font-weight="bold" font-size="6.4" fill="#222" stroke="#222" stroke-width="0.12">(</text>
<text x="378.3" y="286.8" font-family='"Liberation Serif", serif' font-weight="bold" font-size="7.5" fill="#000" text-anchor="middle">I</text>
<text x="382.4" y="286.8" font-family='"Liberation Serif", serif' font-weight="bold" font-size="6.4" fill="#222" stroke="#222" stroke-width="0.12">)</text>
<text x="395.2" y="288.8" font-family='"Liberation Sans", sans-serif' font-weight="bold" font-size="8.5" fill="#111" stroke="#111" stroke-width="0.12" textLength="75.4" lengthAdjust="spacingAndGlyphs">Expression of NEK9</text>
<path d="M389.8 295.7V390.5H544.1" stroke="#a2a2a2" stroke-width="1.1" fill="none"/>
<path d="M387.4 390.5H389.8" stroke="#8e8e8e" stroke-width="0.9"/>
<text x="385.5" y="391.95" font-family='"Liberation Sans", sans-serif' font-size="4.2" fill="#6e6e6e" stroke="#6e6e6e" stroke-width="0.22" text-anchor="end">0</text>
<path d="M387.4 366.95H389.8" stroke="#8e8e8e" stroke-width="0.9"/>
<text x="385.5" y="368.4" font-family='"Liberation Sans", sans-serif' font-size="4.2" fill="#6e6e6e" stroke="#6e6e6e" stroke-width="0.22" text-anchor="end">20</text>
<path d="M387.4 343.4H389.8" stroke="#8e8e8e" stroke-width="0.9"/>
<text x="385.5" y="344.85" font-family='"Liberation Sans", sans-serif' font-size="4.2" fill="#6e6e6e" stroke="#6e6e6e" stroke-width="0.22" text-anchor="end">40</text>
<path d="M387.4 319.85H389.8" stroke="#8e8e8e" stroke-width="0.9"/>
<text x="385.5" y="321.3" font-family='"Liberation Sans", sans-serif' font-size="4.2" fill="#6e6e6e" stroke="#6e6e6e" stroke-width="0.22" text-anchor="end">60</text>
<path d="M387.4 296.3H389.8" stroke="#8e8e8e" stroke-width="0.9"/>
<text x="385.5" y="297.75" font-family='"Liberation Sans", sans-serif' font-size="4.2" fill="#6e6e6e" stroke="#6e6e6e" stroke-width="0.22" text-anchor="end">80</text>
<text transform="translate(377.1 343.4) rotate(-90)" font-family='"Liberation Sans", sans-serif' font-weight="bold" font-size="4.6" fill="#111" stroke="#111" stroke-width="0.16" text-anchor="middle" textLength="44.5" lengthAdjust="spacingAndGlyphs">Transcript per million</text>
<path d="M428.55 301.2V356.6" stroke="#c4c4c4" stroke-width="1.1"/>
<path d="M428.55 301V356.6" stroke="#8e8e8e" stroke-width="1.1" stroke-dasharray="1 1"/>
<path d="M419.35 301.2H437.75M419.35 356.6H437.75" stroke="#838383" stroke-width="1.4"/>
<rect x="409.9" y="320.1" width="37.3" height="13.8" fill="#4867e0"/>
<path d="M409.9 327H447.2" stroke="#1f2f6c" stroke-width="1.5"/>
<path d="M505.65 302.9V383" stroke="#c4c4c4" stroke-width="1.1"/>
<path d="M505.65 302V383" stroke="#8e8e8e" stroke-width="1.1" stroke-dasharray="1 1"/>
<path d="M496.45 302.9H514.85M496.45 383H514.85" stroke="#838383" stroke-width="1.4"/>
<rect x="487" y="335.9" width="37.3" height="22.9" fill="#ff3a03"/>
<path d="M487 348.3H524.3" stroke="#6a1608" stroke-width="1.25"/>
<text x="429.15" y="395.3" font-family='"Liberation Sans", sans-serif' font-size="6.0" fill="#151515" stroke="#151515" stroke-width="0.18" text-anchor="middle" textLength="18.9" lengthAdjust="spacingAndGlyphs">Normal</text>
<text x="429.15" y="403.1" font-family='"Liberation Sans", sans-serif' font-size="6.0" fill="#151515" stroke="#151515" stroke-width="0.18" text-anchor="middle" textLength="19.4" lengthAdjust="spacingAndGlyphs">(n=114)</text>
<text x="506.25" y="395.6" font-family='"Liberation Sans", sans-serif' font-size="6.0" fill="#151515" stroke="#151515" stroke-width="0.18" text-anchor="middle" textLength="38.9" lengthAdjust="spacingAndGlyphs">Primary Tumor</text>
<text x="506.25" y="403.1" font-family='"Liberation Sans", sans-serif' font-size="6.0" fill="#151515" stroke="#151515" stroke-width="0.18" text-anchor="middle" textLength="23.1" lengthAdjust="spacingAndGlyphs">(n=1097)</text>
<text x="467.1" y="407.8" font-family='"Liberation Sans", sans-serif' font-weight="bold" font-size="4.8" fill="#111" stroke="#111" stroke-width="0.22" text-anchor="middle" textLength="30.0" lengthAdjust="spacingAndGlyphs">TCGA samples</text>
<text x="450.9" y="304" font-family='"Liberation Sans", sans-serif' font-weight="bold" font-size="8.25" fill="#111" textLength="35.15" lengthAdjust="spacingAndGlyphs"><tspan font-style="italic">p</tspan> = 1 x 10</text>
<text x="486.75" y="301.45" font-family='"Liberation Sans", sans-serif' font-weight="bold" font-size="5.1" fill="#222" textLength="6.6" lengthAdjust="spacingAndGlyphs">-12</text>
<text x="6.85" y="424.2" font-family='"Liberation Serif", serif' font-weight="bold" font-size="6.4" fill="#222" stroke="#222" stroke-width="0.12">(</text>
<text x="13.1" y="424.6" font-family='"Liberation Serif", serif' font-weight="bold" font-size="7.5" fill="#000" text-anchor="middle">J</text>
<text x="17.6" y="424.2" font-family='"Liberation Serif", serif' font-weight="bold" font-size="6.4" fill="#222" stroke="#222" stroke-width="0.12">)</text>
<text x="26.75" y="424.7" font-family='"Liberation Sans", sans-serif' font-weight="bold" font-size="8.5" fill="#111" stroke="#111" stroke-width="0.12" textLength="80.45" lengthAdjust="spacingAndGlyphs">Expression of NEK11</text>
<path d="M22.7 431.4V528.5H178.6" stroke="#a2a2a2" stroke-width="1.1" fill="none"/>
<path d="M20.3 528.5H22.7" stroke="#8e8e8e" stroke-width="0.9"/>
<text x="18.4" y="529.95" font-family='"Liberation Sans", sans-serif' font-size="4.2" fill="#6e6e6e" stroke="#6e6e6e" stroke-width="0.22" text-anchor="end">0</text>
<path d="M20.3 512.42H22.7" stroke="#8e8e8e" stroke-width="0.9"/>
<text x="18.4" y="513.87" font-family='"Liberation Sans", sans-serif' font-size="4.2" fill="#6e6e6e" stroke="#6e6e6e" stroke-width="0.22" text-anchor="end">5</text>
<path d="M20.3 496.33H22.7" stroke="#8e8e8e" stroke-width="0.9"/>
<text x="18.4" y="497.78" font-family='"Liberation Sans", sans-serif' font-size="4.2" fill="#6e6e6e" stroke="#6e6e6e" stroke-width="0.22" text-anchor="end">10</text>
<path d="M20.3 480.25H22.7" stroke="#8e8e8e" stroke-width="0.9"/>
<text x="18.4" y="481.7" font-family='"Liberation Sans", sans-serif' font-size="4.2" fill="#6e6e6e" stroke="#6e6e6e" stroke-width="0.22" text-anchor="end">15</text>
<path d="M20.3 464.17H22.7" stroke="#8e8e8e" stroke-width="0.9"/>
<text x="18.4" y="465.62" font-family='"Liberation Sans", sans-serif' font-size="4.2" fill="#6e6e6e" stroke="#6e6e6e" stroke-width="0.22" text-anchor="end">20</text>
<path d="M20.3 448.08H22.7" stroke="#8e8e8e" stroke-width="0.9"/>
<text x="18.4" y="449.53" font-family='"Liberation Sans", sans-serif' font-size="4.2" fill="#6e6e6e" stroke="#6e6e6e" stroke-width="0.22" text-anchor="end">25</text>
<path d="M20.3 432H22.7" stroke="#8e8e8e" stroke-width="0.9"/>
<text x="18.4" y="433.45" font-family='"Liberation Sans", sans-serif' font-size="4.2" fill="#6e6e6e" stroke="#6e6e6e" stroke-width="0.22" text-anchor="end">30</text>
<text transform="translate(10.7 480.25) rotate(-90)" font-family='"Liberation Sans", sans-serif' font-weight="bold" font-size="4.6" fill="#111" stroke="#111" stroke-width="0.16" text-anchor="middle" textLength="44.5" lengthAdjust="spacingAndGlyphs">Transcript per million</text>
<path d="M62 477.5V523.9" stroke="#c4c4c4" stroke-width="1.1"/>
<path d="M62 477V523.9" stroke="#8e8e8e" stroke-width="1.1" stroke-dasharray="1 1"/>
<path d="M52.8 477.5H71.2M52.8 523.9H71.2" stroke="#838383" stroke-width="1.4"/>
<rect x="43.1" y="494.7" width="37.8" height="11.9" fill="#4867e0"/>
<path d="M43.1 500.3H80.9" stroke="#1f2f6c" stroke-width="1.5"/>
<path d="M140 447.2V526.1" stroke="#c4c4c4" stroke-width="1.1"/>
<path d="M140 447V526.1" stroke="#8e8e8e" stroke-width="1.1" stroke-dasharray="1 1"/>
<path d="M130.8 447.2H149.2M130.8 526.1H149.2" stroke="#838383" stroke-width="1.4"/>
<rect x="121.2" y="486" width="37.6" height="25.1" fill="#ff3a03"/>
<path d="M121.2 499.8H158.8" stroke="#6a1608" stroke-width="1.25"/>
<text x="61.4" y="535.8" font-family='"Liberation Sans", sans-serif' font-size="6.0" fill="#151515" stroke="#151515" stroke-width="0.18" text-anchor="middle" textLength="18.9" lengthAdjust="spacingAndGlyphs">Normal</text>
<text x="61.4" y="543.4" font-family='"Liberation Sans", sans-serif' font-size="6.0" fill="#151515" stroke="#151515" stroke-width="0.18" text-anchor="middle" textLength="19.4" lengthAdjust="spacingAndGlyphs">(n=114)</text>
<text x="139.45" y="535.8" font-family='"Liberation Sans", sans-serif' font-size="6.0" fill="#151515" stroke="#151515" stroke-width="0.18" text-anchor="middle" textLength="38.9" lengthAdjust="spacingAndGlyphs">Primary Tumor</text>
<text x="139.45" y="543.4" font-family='"Liberation Sans", sans-serif' font-size="6.0" fill="#151515" stroke="#151515" stroke-width="0.18" text-anchor="middle" textLength="23.1" lengthAdjust="spacingAndGlyphs">(n=1097)</text>
<text x="101" y="546" font-family='"Liberation Sans", sans-serif' font-weight="bold" font-size="4.8" fill="#111" stroke="#111" stroke-width="0.22" text-anchor="middle" textLength="30.0" lengthAdjust="spacingAndGlyphs">TCGA samples</text>
<text x="68.2" y="445.5" font-family='"Liberation Sans", sans-serif' font-weight="bold" font-size="8.25" fill="#111" textLength="45.45" lengthAdjust="spacingAndGlyphs"><tspan font-style="italic">p</tspan> = 1.86 x 10</text>
<text x="114.35" y="442.95" font-family='"Liberation Sans", sans-serif' font-weight="bold" font-size="5.1" fill="#222" textLength="4.1" lengthAdjust="spacingAndGlyphs">-3</text>
</svg>
</body></html>
